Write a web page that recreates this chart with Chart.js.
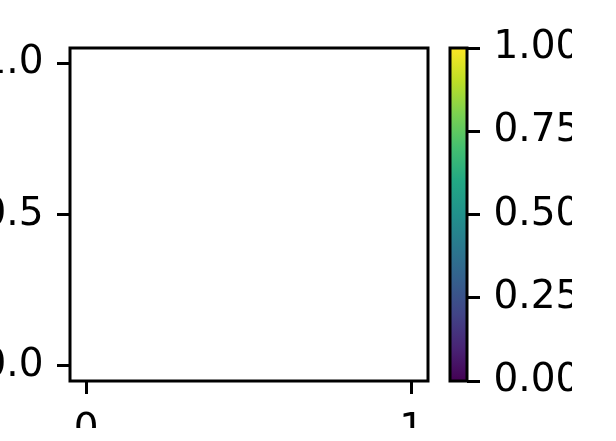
<!DOCTYPE html>
<html>
<head>
<meta charset="utf-8">
<script src="https://cdn.jsdelivr.net/npm/chart.js@4/dist/chart.umd.min.js"></script>
<style>
    html, body { margin: 0; padding: 0; background: #ffffff; }
    body { width: 616px; height: 441px; position: relative; overflow: hidden; }
    canvas { position: absolute; left: 0; top: 0; }
</style>
</head>
<body>
<canvas id="mainChart" width="572" height="428"></canvas>
<canvas id="colorbar" width="572" height="428"></canvas>
<script>
// axis ticks of the empty axes
const xTicks = [0, 1];
const xTickLabels = ['0', '1'];
const yTicks = [0, 0.5, 1];
const yTickLabels = ['0.0', '0.5', '1.0'];
const xRange = [-0.05, 1.05];
const yRange = [-0.05, 1.05];

// colorbar
const cbRange = [0, 1];
const cbTicks = [0, 0.25, 0.5, 0.75, 1];
const cbTickLabels = ['0.00', '0.25', '0.50', '0.75', '1.00'];
const viridisStops = [0, 0.1, 0.2, 0.3, 0.4, 0.5, 0.6, 0.7, 0.8, 0.9, 1];
const viridisColors = ['#440154', '#482475', '#414487', '#355f8d', '#2a788e',
    '#21918c', '#22a884', '#44bf70', '#7ad151', '#bddf26', '#fde725'];

const FONT = { family: 'DejaVu Sans', size: 39 };

function tickAxis(values, labels) {
    return {
        afterBuildTicks: scale => {
            scale.ticks = values.map(v => ({ value: v }));
        },
        ticks: {
            color: '#000000',
            font: FONT,
            padding: 13.5,
            maxRotation: 0,
            autoSkip: false,
            callback: (value, i) => labels[i]
        },
        grid: {
            display: true,
            drawOnChartArea: false,
            drawTicks: true,
            tickLength: 13,
            tickWidth: 3,
            tickColor: '#000000'
        },
        border: { display: false }
    };
}

// matplotlib style frame around the chart area
const frame = {
    id: 'frame',
    afterDraw(chart) {
        const { ctx, chartArea: a } = chart;
        ctx.save();
        ctx.strokeStyle = '#000000';
        ctx.lineWidth = 3;
        ctx.strokeRect(a.left, a.top, a.right - a.left, a.bottom - a.top);
        ctx.restore();
    }
};

Chart.defaults.animation = false;

new Chart(document.getElementById('mainChart'), {
    type: 'scatter',
    data: { datasets: [{ data: [] }] },
    options: {
        responsive: false,
        layout: { padding: { left: 0, right: 144, top: 48, bottom: 0 } },
        plugins: { legend: { display: false }, tooltip: { enabled: false } },
        scales: {
            x: Object.assign(tickAxis(xTicks, xTickLabels), {
                type: 'linear', min: xRange[0], max: xRange[1],
                afterFit: s => { s.height = 47; }
            }),
            y: Object.assign(tickAxis(yTicks, yTickLabels), {
                type: 'linear', min: yRange[0], max: yRange[1],
                afterFit: s => { s.width = 70; }
            })
        }
    },
    plugins: [frame]
});

function viridisGradient(context) {
    const chart = context.chart;
    const a = chart.chartArea;
    if (!a) return viridisColors[0];
    const g = chart.ctx.createLinearGradient(0, a.bottom, 0, a.top);
    viridisStops.forEach((s, i) => g.addColorStop(s, viridisColors[i]));
    return g;
}

new Chart(document.getElementById('colorbar'), {
    type: 'bar',
    data: {
        labels: [''],
        datasets: [{
            data: [cbRange],
            backgroundColor: viridisGradient,
            borderWidth: 0,
            barPercentage: 1,
            categoryPercentage: 1
        }]
    },
    options: {
        responsive: false,
        layout: { padding: { left: 450, right: 0, top: 48, bottom: 47 } },
        plugins: { legend: { display: false }, tooltip: { enabled: false } },
        scales: {
            x: { display: false },
            y: Object.assign(tickAxis(cbTicks, cbTickLabels), {
                type: 'linear', position: 'right', min: cbRange[0], max: cbRange[1],
                afterFit: s => { s.width = 105; }
            })
        }
    },
    plugins: [frame]
});
</script>
</body>
</html>
